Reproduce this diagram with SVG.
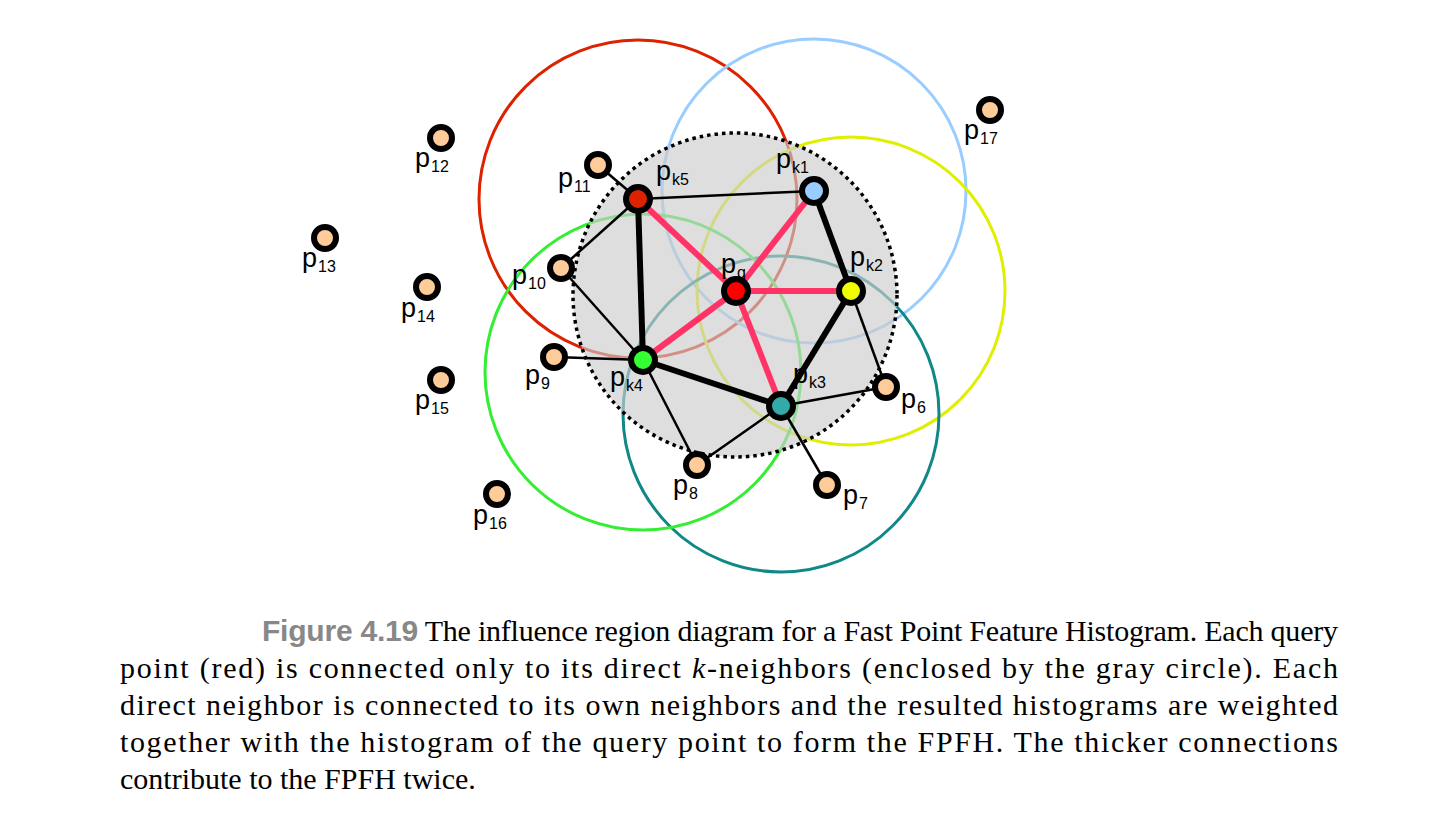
<svg xmlns="http://www.w3.org/2000/svg" width="1440" height="819" viewBox="0 0 1440 819">
<style>
.c{fill:none;stroke-width:3}
.e{stroke:#000;stroke-width:2.5}
.t{stroke:#000;stroke-width:6}
.r{stroke:#ff3366;stroke-width:6}
.n{stroke:#000;stroke-width:6}
.l{font-family:"Liberation Sans",Arial,sans-serif;font-size:27px;fill:#000}
.s{font-size:16px}
.cap{font-family:"Liberation Serif","Times New Roman",serif;font-size:30px}
</style>
<rect width="1440" height="819" fill="#fff"/>
<g id="circles">
<circle class="c" cx="638" cy="199" r="159" stroke="#dd2200"/>
<circle class="c" cx="814" cy="191" r="152" stroke="#99ccff"/>
<circle class="c" cx="851" cy="291" r="154" stroke="#e0ee00"/>
<circle class="c" cx="781" cy="414" r="158" stroke="#118888"/>
<circle class="c" cx="643" cy="372" r="158" stroke="#33ee33"/>
</g>
<circle id="region" cx="735" cy="295" r="162" fill="#cccccc" fill-opacity="0.65" stroke="#000" stroke-width="3.5" stroke-dasharray="3.5,4"/>
<g id="connectors">
<line class="e" x1="638" y1="199" x2="598" y2="165"/>
<line class="e" x1="638" y1="199" x2="814" y2="191"/>
<line class="e" x1="638" y1="199" x2="561" y2="268"/>
<line class="e" x1="561" y1="268" x2="643" y2="360"/>
<line class="e" x1="554" y1="357" x2="643" y2="360"/>
<line class="e" x1="643" y1="360" x2="697" y2="465"/>
<line class="e" x1="697" y1="465" x2="781" y2="406"/>
<line class="e" x1="781" y1="406" x2="827" y2="485"/>
<line class="e" x1="781" y1="406" x2="886" y2="387"/>
<line class="e" x1="851" y1="291" x2="886" y2="387"/>
<line class="t" x1="638" y1="199" x2="643" y2="360"/>
<line class="t" x1="814" y1="191" x2="851" y2="291"/>
<line class="t" x1="851" y1="291" x2="781" y2="406"/>
<line class="t" x1="643" y1="360" x2="781" y2="406"/>
<line class="r" x1="736" y1="291" x2="638" y2="199"/>
<line class="r" x1="736" y1="291" x2="814" y2="191"/>
<line class="r" x1="736" y1="291" x2="851" y2="291"/>
<line class="r" x1="736" y1="291" x2="781" y2="406"/>
<line class="r" x1="736" y1="291" x2="643" y2="360"/>
</g>
<g id="pq"><circle class="n" cx="736" cy="291" r="12" fill="#ff0000"/><text class="l" x="721" y="273">p<tspan class="s" dx="1" dy="5">q</tspan></text></g>
<g id="pk1"><circle class="n" cx="814" cy="191" r="12" fill="#99ccff"/><text class="l" x="776" y="168">p<tspan class="s" dx="1" dy="5">k1</tspan></text></g>
<g id="pk2"><circle class="n" cx="851" cy="291" r="12" fill="#eeff00"/><text class="l" x="850" y="266">p<tspan class="s" dx="1" dy="5">k2</tspan></text></g>
<g id="pk3"><circle class="n" cx="781" cy="406" r="12" fill="#33aaaa"/><text class="l" x="793" y="383">p<tspan class="s" dx="1" dy="5">k3</tspan></text></g>
<g id="pk4"><circle class="n" cx="643" cy="360" r="12" fill="#33ff33"/><text class="l" x="610" y="386">p<tspan class="s" dx="1" dy="5">k4</tspan></text></g>
<g id="pk5"><circle class="n" cx="638" cy="199" r="12" fill="#dd2200"/><text class="l" x="656" y="180">p<tspan class="s" dx="1" dy="5">k5</tspan></text></g>
<g id="p11"><circle class="n" cx="598" cy="165" r="11" fill="#ffcc99"/><text class="l" x="558" y="187">p<tspan class="s" dx="1" dy="5">11</tspan></text></g>
<g id="p10"><circle class="n" cx="561" cy="268" r="11" fill="#ffcc99"/><text class="l" x="512" y="284">p<tspan class="s" dx="1" dy="5">10</tspan></text></g>
<g id="p9"><circle class="n" cx="554" cy="357" r="11" fill="#ffcc99"/><text class="l" x="525" y="384">p<tspan class="s" dx="1" dy="5">9</tspan></text></g>
<g id="p8"><circle class="n" cx="697" cy="465" r="11" fill="#ffcc99"/><text class="l" x="673" y="494">p<tspan class="s" dx="1" dy="5">8</tspan></text></g>
<g id="p7"><circle class="n" cx="827" cy="485" r="11" fill="#ffcc99"/><text class="l" x="843" y="504">p<tspan class="s" dx="1" dy="5">7</tspan></text></g>
<g id="p6"><circle class="n" cx="886" cy="387" r="11" fill="#ffcc99"/><text class="l" x="901" y="408">p<tspan class="s" dx="1" dy="5">6</tspan></text></g>
<g id="p12"><circle class="n" cx="441" cy="138" r="11" fill="#ffcc99"/><text class="l" x="415" y="167">p<tspan class="s" dx="1" dy="5">12</tspan></text></g>
<g id="p13"><circle class="n" cx="325" cy="238" r="11" fill="#ffcc99"/><text class="l" x="302" y="267">p<tspan class="s" dx="1" dy="5">13</tspan></text></g>
<g id="p14"><circle class="n" cx="427" cy="287" r="11" fill="#ffcc99"/><text class="l" x="401" y="317">p<tspan class="s" dx="1" dy="5">14</tspan></text></g>
<g id="p15"><circle class="n" cx="441" cy="380" r="11" fill="#ffcc99"/><text class="l" x="415" y="409">p<tspan class="s" dx="1" dy="5">15</tspan></text></g>
<g id="p16"><circle class="n" cx="497" cy="494" r="11" fill="#ffcc99"/><text class="l" x="473" y="524">p<tspan class="s" dx="1" dy="5">16</tspan></text></g>
<g id="p17"><circle class="n" cx="990" cy="110" r="11" fill="#ffcc99"/><text class="l" x="964" y="139">p<tspan class="s" dx="1" dy="5">17</tspan></text></g>
<g id="caption" class="cap">
<text x="262" y="641" textLength="1076" lengthAdjust="spacing"><tspan font-family="Liberation Sans,Arial,sans-serif" font-weight="bold" fill="#888">Figure 4.19</tspan> The influence region diagram for a Fast Point Feature Histogram. Each query</text>
<text x="120" y="678" textLength="1218" lengthAdjust="spacing">point (red) is connected only to its direct <tspan font-style="italic">k</tspan>-neighbors (enclosed by the gray circle). Each</text>
<text x="120" y="715" textLength="1218" lengthAdjust="spacing">direct neighbor is connected to its own neighbors and the resulted histograms are weighted</text>
<text x="120" y="752" textLength="1218" lengthAdjust="spacing">together with the histogram of the query point to form the FPFH. The thicker connections</text>
<text x="120" y="789">contribute to the FPFH twice.</text>
</g>
</svg>
